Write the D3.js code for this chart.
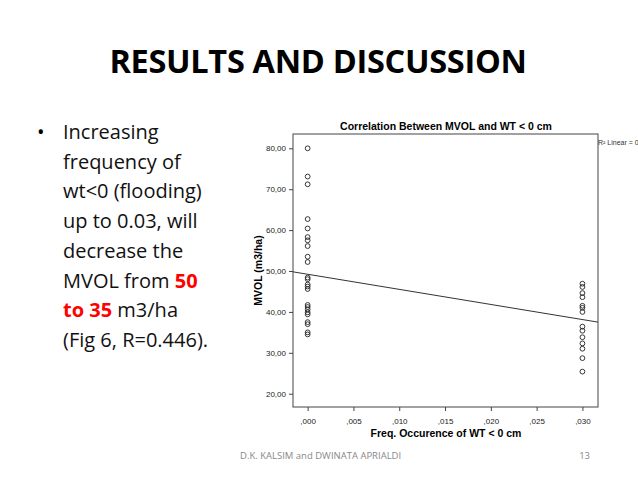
<!DOCTYPE html>
<html><head><meta charset="utf-8">
<script src="https://cdn.jsdelivr.net/npm/d3@7"></script>
<style>body{margin:0;background:#fff}svg{display:block}</style>
</head><body>
<svg id="c" width="638" height="478"></svg>
<script>
var xVals0 = [80, 73.1, 71.2, 62.7, 60.4, 58.3, 57.5, 56.1, 53.5, 52.2, 48.4, 48, 46.7, 46.2, 45.6, 41.7, 41.2, 40.6, 39.9, 39.4, 37.5, 37, 35, 34.5];
var xVals30 = [46.9, 46.1, 44.6, 43.6, 41.5, 41, 40, 36.4, 35.4, 33.8, 32.3, 31, 28.7, 25.4];
var xTicks = [0, 0.005, 0.01, 0.015, 0.02, 0.025, 0.03];
var yTicks = [20, 30, 40, 50, 60, 70, 80];
var fitLine = [[-0.0016, 49.8], [0.0317, 37.5]];
var bulletLines = ["Increasing", "frequency of", "wt<0 (flooding)", "up to 0.03, will", "decrease the", "MVOL from |50", "|to 35| m3/ha", "(Fig 6, R=0.446)."];

var svg = d3.select("#c");
var slideFont = "'Open Sans', Lato, sans-serif";

svg.append("text").attr("x", 318).attr("y", 73).attr("text-anchor", "middle")
    .style("font-family", slideFont).style("font-weight", "bold").style("font-size", "32.5px")
    .style("letter-spacing", "-0.3px")
    .text("RESULTS AND DISCUSSION");

svg.append("text").attr("x", 37).attr("y", 139).style("font-size", "20px")
    .style("font-family", slideFont).text("•");

bulletLines.forEach(function(line, i){
    var t = svg.append("text").attr("x", 63).attr("y", 139 + i * 29.7)
        .style("font-family", slideFont).style("font-size", "20px").attr("fill", "#111");
    // text between '|' marks is red bold
    line.split("|").forEach(function(part, j){
        var red = j % 2 === 1;
        if(!part) return;
        t.append("tspan").text(part)
            .attr("fill", red ? "#ff0000" : "#111")
            .style("font-weight", red ? "bold" : "normal");
    });
});

svg.append("text").attr("x", 240).attr("y", 459).style("font-family", slideFont)
    .style("font-size", "9.5px").attr("fill", "#888").text("D.K. KALSIM and DWINATA APRIALDI");
svg.append("text").attr("x", 590).attr("y", 459).attr("text-anchor", "end").style("font-family", slideFont)
    .style("font-size", "9.5px").attr("fill", "#888").text("13");

// chart
var L = 293, R = 598, T = 134, B = 407;
var x = d3.scaleLinear().domain([-0.0016, 0.0317]).range([L, R]);
var y = d3.scaleLinear().domain([16.75, 83.5]).range([B, T]);
var cf = "'Liberation Sans', Arial, sans-serif";

svg.append("rect").attr("x", L).attr("y", T).attr("width", R - L).attr("height", B - T)
    .attr("fill", "none").attr("stroke", "#444").attr("stroke-width", 1);

var fmtX = function(d){ return "," + d3.format(".3f")(d).split(".")[1]; };
var fmtY = function(d){ return d3.format(".2f")(d).replace(".", ","); };

var gx = svg.append("g").attr("transform", "translate(0," + B + ")")
    .call(d3.axisBottom(x).tickValues(xTicks).tickFormat(fmtX).tickSize(4).tickSizeOuter(0));
var gy = svg.append("g").attr("transform", "translate(" + L + ",0)")
    .call(d3.axisLeft(y).tickValues(yTicks).tickFormat(fmtY).tickSize(4).tickSizeOuter(0));
[gx, gy].forEach(function(g){
    g.select(".domain").remove();
    g.selectAll("line").attr("stroke", "#444");
    g.selectAll("text").style("font-family", cf).style("font-size", "8px").attr("fill", "#222");
});
gx.selectAll("text").attr("dy", "1.3em");

svg.append("text").attr("x", 446).attr("y", 130).attr("text-anchor", "middle")
    .style("font-family", cf).style("font-weight", "bold").style("font-size", "10.5px")
    .text("Correlation Between MVOL and WT  < 0 cm");
svg.append("text").attr("x", 446).attr("y", 437).attr("text-anchor", "middle")
    .style("font-family", cf).style("font-weight", "bold").style("font-size", "10.5px")
    .text("Freq. Occurence of WT < 0 cm");
svg.append("text").attr("transform", "translate(262," + ((T + B) / 2) + ") rotate(-90)")
    .attr("text-anchor", "middle").style("font-family", cf).style("font-weight", "bold")
    .style("font-size", "10.5px").text("MVOL (m3/ha)");
svg.append("text").attr("x", 598).attr("y", 145).style("font-family", cf)
    .style("font-size", "7px").attr("fill", "#333").text("R² Linear = 0");

svg.append("line").attr("x1", x(fitLine[0][0])).attr("y1", y(fitLine[0][1]))
    .attr("x2", x(fitLine[1][0])).attr("y2", y(fitLine[1][1]))
    .attr("stroke", "#333").attr("stroke-width", 1);

var pts = xVals0.map(function(v){ return [0, v]; })
    .concat(xVals30.map(function(v){ return [0.03, v]; }));
svg.selectAll("circle.p").data(pts).enter().append("circle").attr("class", "p")
    .attr("cx", function(d){ return x(d[0]); })
    .attr("cy", function(d){ return y(d[1]); })
    .attr("r", 2.4).attr("fill", "none").attr("stroke", "#222").attr("stroke-width", 0.9);
</script>
</body></html>
